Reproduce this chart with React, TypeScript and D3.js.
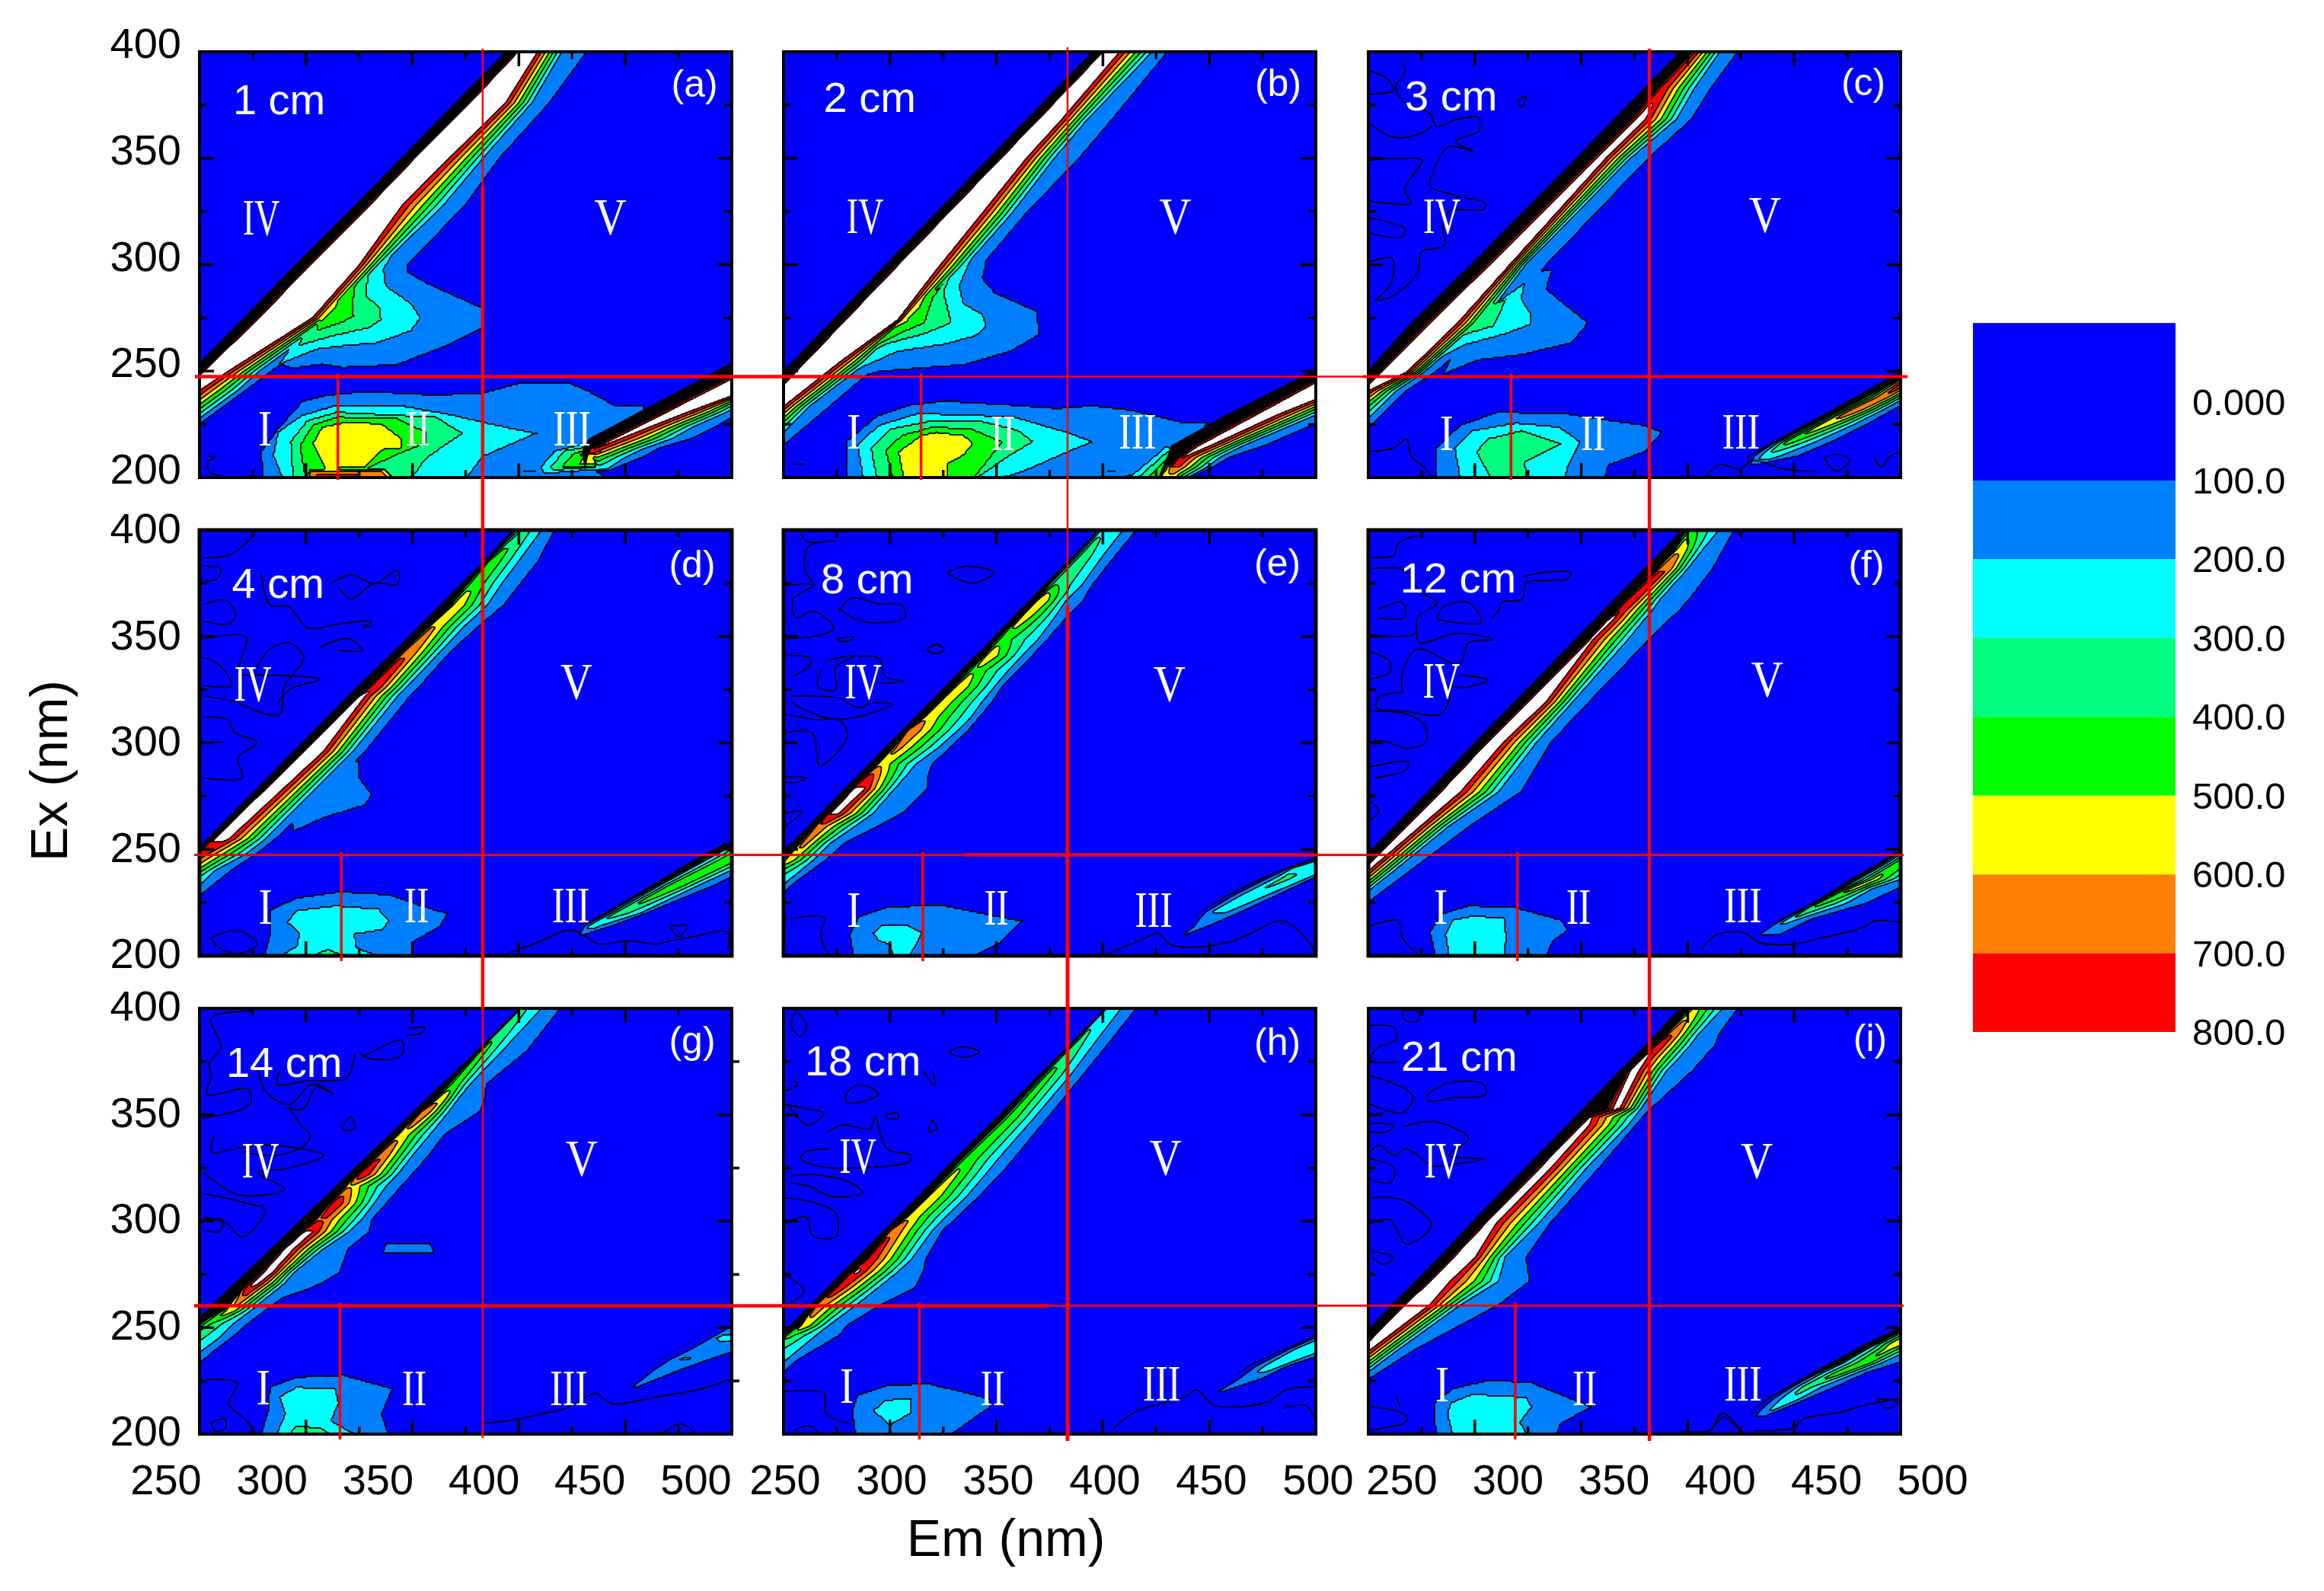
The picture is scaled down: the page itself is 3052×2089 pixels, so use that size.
import React from "react";
import * as d3 from "d3";

type Row = number[]; // [ex, upperFoot, peakStart, peakEnd, em200, em100, peakValue]
type Pt = [number, number];
type Lobe = [number, Pt[]];

// Colour bands
const levels = [100, 200, 300, 400, 500, 600, 700, 800];
const levelColors = ["#0080FF", "#00FFFF", "#00FF80", "#00FF00", "#FFFF00", "#FF8000", "#FF0000", "#FFFFFF"];
const barLabels = ["0.000", "100.0", "200.0", "300.0", "400.0", "500.0", "600.0", "700.0", "800.0"];
const barValues = [0, 100, 200, 300, 400, 500, 600, 700, 800];

// Axis labels
const emLabels = [250, 300, 350, 400, 450, 500];
const exLabels = [200, 250, 300, 350, 400];
const depthLabels = ["1 cm", "2 cm", "3 cm", "4 cm", "8 cm", "12 cm", "14 cm", "18 cm", "21 cm"];
const letterLabels = ["(a)", "(b)", "(c)", "(d)", "(e)", "(f)", "(g)", "(h)", "(i)"];
const romanLabels = ["I", "II", "III", "IV", "V"];
const depthEm = [265.7, 268.8, 267.2, 265.2, 267.5, 264.9, 262.5, 260, 265.4];
const depthEx = [370.7, 371.7, 372.4, 368.3, 370.3, 370.8, 367.8, 368.5, 370.7];
const letterEm = [482.5, 482.3, 482.5, 481.4, 482, 483.9, 481.4, 482, 485.7];
const letterEx = [378.9, 379.2, 379.6, 377.8, 378.5, 377.8, 378.9, 378.2, 379.8];
const romanEm = [
  [280.8, 352.5, 425, 279, 443], [283, 353, 416.3, 288.3, 434], [286.8, 355.5, 425, 284.5, 436.3],
  [281, 352, 424.4, 275, 427], [283, 350, 423.8, 287.4, 431.3], [284, 348.7, 426, 284.3, 437.4],
  [280, 350.9, 423.5, 278.6, 429.5], [279.7, 348.2, 427.6, 284.9, 429.4], [284.7, 351.6, 426, 285, 432.4],
];
const romanEx = [
  [215, 215, 215, 314, 314.5], [213.6, 212.8, 213.6, 314.8, 314.8], [213, 213, 213.6, 314.8, 315.5],
  [215, 215.7, 215.7, 320, 321], [213.6, 214.7, 213.6, 321, 320], [215, 215, 215.7, 321.3, 322],
  [214, 213.6, 213.6, 320.6, 321.8], [214.5, 213.6, 215.7, 322.7, 322], [215.4, 213.6, 215.7, 320.6, 320.6],
];

const redEm = [383, 383.4, 382];
const redEx = [247.4, 247.4, 260.3];
const sepEm = [[315, 314.6, 317], [316.6, 315.4, 320], [316, 313.8, 319]];

// ---- Panel (a)
const ridgeA: Row[] = [[222,218,224,224,242,246,810],[241,237,243,250,268,272,810],[250,246,252,263.5,278,284,810],[275,270.6,278,303,312,318,810],[300,295,302,325,335.5,348,810],[328,323,330,345,364.5,375,810],[350,344.5,351,367,383,391,810],[376,370,377,393.6,406,414.5,810],[400,393.5,399.5,408.7,420,432,810]];
const ridge2A: Row[] = [[203,431,438,439,440,442,150],[209.6,430,436,437,450,458.6,500],[213.6,430,435,436,458.6,466,810],[218.4,433,444.8,448,472,482,810],[224,443.6,456,462,482,493,810],[231,456.7,470,480,498,505,810],[238.3,470.5,484,500,510,518,810],[254,500,515,540,540.5,550,810]];
const lobesA: Lobe[] = [
  [100,[[348.3,304.5],[348.3,296.6],[356.4,291.8],[383,279.8],[383,270.2],[365.7,261.5],[342.5,252.7],[317,251.4],[307.6,253],[293.7,251],[282,255],[319,304.5]]],
  [200,[[341.3,306],[336.7,298],[337.8,290],[349.4,282],[354,275],[349.4,268.6],[333,263],[317,261.5],[305,260],[286.7,252.7],[319,296]]],
  [300,[[329.7,298],[328.5,285.4],[335,279.8],[335.5,274.2],[329.7,270.2],[312.3,266.2],[296,261.5],[305,280.6]]],
  [400,[[324,295],[322,280.6],[322.7,275.8],[317,272.6],[305,268.6],[305,280.6]]],
  [500,[[317,291.8],[314.6,280.6],[307.6,273.4],[300.6,275.8]]],
  [100,[[279.7,199],[278.6,212],[286.7,223],[298.3,236],[310,239],[328.5,240.7],[361,239],[383,240],[400.6,244.7],[423.8,244.7],[433,240.7],[444.7,234.3],[458.6,234.3],[458.6,216.8],[435.4,204],[442.4,199]]],
  [200,[[289,199],[284.4,210.4],[286.7,221.5],[298.3,229.5],[314.6,234.3],[342.5,234.3],[365.7,230.3],[383,226.3],[408.7,220.8],[383,209.6],[375,199]]],
  [300,[[293.7,199],[292.5,216.8],[300.6,227],[314.6,231],[342.5,229.5],[361,228.7],[373.8,220.8],[356.4,208.8],[349.4,199]]],
  [400,[[299.5,199],[297,215],[303,224.7],[314.6,228.7],[342.5,228],[356.4,221.5],[356.4,216],[342.5,210.4],[328.5,204],[342.5,199]]],
  [500,[[308.8,204],[303,216],[307.6,224],[319,226.3],[335.5,225.5],[344.8,218.4],[344.8,213.6],[335.5,212.8],[327.4,204.8]]],
  [500,[[299,199],[302,204],[337,204],[342,199]]],
  [600,[[301,199],[302,203],[335.5,203],[340,199]]],
  [700,[[304,199],[305,201.8],[324,201.8],[325,199]]],
  [200,[[409.9,204.8],[416.8,212.8],[433,216.8],[442.4,204],[412.2,201.6]]],
  [300,[[414.5,204.8],[421.5,212.8],[433,215],[435.4,204.8],[416.8,203.2]]],
  [400,[[420,205],[425,211],[433,214],[436,205]]],
  [500,[[428,206],[431,211],[435,212],[436,206]]],
  [700,[[428.4,210.4],[434.2,214.4],[439,212],[430.8,210.4]]],
];
const noiseA: Pt[][] = [[[254,210],[257.7,209.6],[254,207.2],[255,202.4],[261,200.8]],[[402,203],[408,203]]];

// ---- Panel (b)
const ridgeB: Row[] = [[215,216,222,226,244,250,810],[233.5,233.8,240,250,262,272,810],[254,253.6,260,276,289,296,810],[274,272.9,279,303.6,309,316,810],[298,296,302,322,334,342,810],[324,321,327,343,357,364,810],[350,346.3,352,363.9,377,389,810],[367.6,363.3,369,380,392,404,810],[400,394.9,400,407.7,423,430.5,810]];
const ridge2B: Row[] = [[200,426,430,432,440,441,550],[205,428,432,436,449,452,700],[209.6,430,437,438,455,460,810],[215,432,445,450.5,465.7,476.5,810],[229.5,458,472,482,500,510,810],[244.7,488,500,520,530,540,810],[251,500,512,535,540,550,810]];
const lobesB: Lobe[] = [
  [100,[[345.6,301.4],[343.8,293.4],[349.3,287],[369.3,278.2],[370.3,267],[356.6,259],[334.7,252.7],[312.8,251],[294.5,249.5],[281.8,245.5],[276,255],[322,296.6]]],
  [200,[[338.3,303],[332.8,290],[334.7,282],[343.8,276.6],[345.6,271],[340,266.2],[325.5,262.3],[303.6,259],[294.5,255],[280,248.7],[318,288.6]]],
  [300,[[329,296.6],[325.5,287],[327.4,279],[329,272.6],[315.5,267],[300,263],[285.4,256.7],[312.8,280.6]]],
  [400,[[325.5,291.8],[320,283.8],[316.4,272.6],[305.5,267.8],[290.9,260.7],[309,277.4]]],
  [500,[[320,291.8],[314.6,280.6],[307.3,272.6],[296.4,267],[305.5,280.6]]],
  [100,[[279,199],[279,216.8],[294.5,229.5],[309,234.3],[325.5,236.2],[353,234.6],[378.5,232.7],[394.9,234],[413,232],[436.9,226.3],[449.6,226.3],[440.5,210.4],[407.7,199]]],
  [200,[[287.2,199],[284.5,215.2],[294.5,224.7],[312.8,230.3],[334.7,229.8],[358.4,228.7],[384,221.2],[395.8,216.8],[384,212],[363.9,203.2],[351,199]]],
  [300,[[293.6,199],[290.9,213.6],[300,223],[320,227],[342,227],[360.2,222.3],[367.5,216.8],[356.6,210.4],[340,199]]],
  [400,[[301,199],[297.8,212.8],[305.5,220],[320,224],[338.3,223],[353,216.8],[349.3,212],[339,199]]],
  [500,[[306.4,199],[303.6,212],[314.6,220],[321.9,221.5],[334.7,220],[339.2,216],[334.7,210.4],[327.4,206.4],[327.4,199]]],
  [200,[[411,199],[430,215],[440,206],[440,199]]],
  [300,[[415,199],[431,213],[438,205],[438,199]]],
  [400,[[420,199],[431,210],[436,204],[436,199]]],
  [500,[[426,199],[431,206],[435,203],[435,199]]],
];
const noiseB: Pt[][] = [[[254,206.4],[260,206.4]],[[402,203],[406,203]]];

// ---- Panel (c)
const ridgeC: Row[] = [[222,217,222,222,244,249,810],[240.7,240,247,250,263,268,810],[249.5,249,256,268,276,281.6,810],[272.6,270,279,291.8,303,309,810],[300,298,307,316.4,323.7,333.8,810],[350,347.5,357,361.4,373,381.7,810],[368.4,365.3,375.9,380,394.7,402,810],[382.8,379.5,388,388.5,403,411,790],[400,396,404,404.5,415,423.7,740]];
const ridge2C: Row[] = [[206,428,429,430,431,432,120],[210,428,436,437,443,452,250],[216.8,440,447,448,460,468,450],[224.7,454.5,463,465,477.5,484,560],[232,468,478,481,492,497,660],[237.5,478,490,492,502,509,680],[250,500,510,512,524,530,800]];
const lobesC: Lobe[] = [
  [100,[[336.7,298],[333.8,288.6],[342.5,281.4],[353.5,272.6],[345.4,263],[322.2,257.5],[301.9,255],[284.5,248],[301.9,280.6],[328,296.6]]],
  [200,[[323.7,291.8],[322.2,283.8],[326.6,276.6],[326.6,271.8],[313.5,267],[296,262.3],[281.6,255],[299,274.2]]],
  [300,[[315,283.8],[309,271],[293,266.2],[293,277.4]]],
  [100,[[281.6,199],[281.6,213.6],[293,224.7],[310.6,231],[342.5,230.3],[380,224.7],[388.3,221.5],[380,212],[362.8,205.6],[361.4,199]]],
  [200,[[293,199],[290.3,213.6],[299,222.3],[319.3,225.9],[339.6,224],[349.8,216.8],[344,205.6],[342.5,199]]],
  [300,[[307.7,199],[300.5,212],[306,218.4],[322.2,222.3],[341,216],[323.7,207],[325,199]]],
];
const noiseC: Pt[][] = [
  [[266,396],[267,390],[263,384],[266,377],[279,371],[282,365],[291,368],[302,369],[302,363],[291,358],[300,353],[293,355],[287,355],[280,342],[279,337],[293,332],[305,329],[304,326],[288,325],[285,317],[286,309],[275,306],[273,296],[261,285],[253,283]],
  [[250,367],[261,360],[273,361],[280,365]],
  [[250,349],[267,350],[275,349],[267,335],[270,329],[250,330]],
  [[250,322],[267,317],[266,313],[250,315]],
  [[250,301],[261,303],[261,292],[253,283]],
  [[250,391],[258,388],[262,382],[250,380]],
  [[250,212],[262,214],[268,218],[270,210],[276,205],[280,200]],
  [[408,200],[415,206],[425,204],[430,208],[445,204],[460,203]],
  [[464,209],[470,211],[476,208],[470,203],[464,209]],
  [[487,210],[491,205],[495,210],[500,212]],
  [[320,377],[324,379],[322,374],[320,377]],
];

// ---- Panel (d)
const ridgeD: Row[] = [[228,226,227,227,245,250,300],[240,238.6,246,247,257,265,560],[248,246.5,250,252,272,277,760],[255,253.5,257,263.7,281,286,810],[296,294,299,308,322,328,810],[322,319.6,325,327.6,343,349,810],[326,323.6,331,333,347,353,790],[342.8,341,347,350,363,368,680],[354.5,352.7,359,361,374,381,600],[364.7,362.8,370,372,385,393,570],[375,373,378,381,392,401,460],[385,383,386,389,399.5,409,450],[400,397,402,404,410.6,417,330]];
const ridge2D: Row[] = [[210,428,428.5,429,430,431,150],[214,429,433,434,438,444,220],[220,440,446,448,457,460,360],[233,462,472,475,484,492,480],[245,482,497,499,510,516,500],[253,497,510,512,522,530,470]];
const lobesD: Lobe[] = [
  [100,[[324.8,291.7],[324.8,284.4],[331.2,275.6],[327.6,270.5],[308.4,264.7],[293.8,258],[292,274],[310,288.8]]],
  [100,[[280,199],[282.8,210],[282.8,221.6],[295.6,227.4],[315.7,230.4],[339.4,229],[354,223.8],[366.8,220],[363,213.6],[350.4,206.3],[350.4,199]]],
  [200,[[286.5,199],[295.6,204.8],[296.5,210.7],[291,215.8],[295.6,221.6],[313.9,223.8],[334,222.3],[339.4,216.5],[335.8,212],[323,210],[323.9,204],[336.7,199]]],
  [300,[[301,199],[310.2,203.4],[321,199]]],
];
const noiseD: Pt[][] = [
  [[276,398],[264.6,388.5],[252,387]],
  [[252,383],[260,382],[258,377],[252,376]],
  [[312,375],[321,379],[332,375],[343,381],[343,374.6],[332,375],[321,367.6],[315.5,373]],
  [[279,380],[283,365],[292,364],[301,354],[316,356],[331,357],[326.7,354],[331,355]],
  [[252,349],[272,350],[270,341],[268,334]],
  [[306.6,345],[320,349],[326.7,343.5],[315.7,343.5]],
  [[277,335.5],[283,344],[292,347],[299,340],[290,327],[288,313.6],[281,313.6],[266,319.4],[252,322]],
  [[252,340],[259,337],[265,327],[252,327]],
  [[268,332],[306.6,330],[292,325],[286.5,318]],
  [[252,312],[263,311],[266.4,305],[277,300.4],[268,293],[270,283.6],[252,283.6]],
  [[252,300.4],[261,300.4]],
  [[252,365],[262,367],[267,361],[264,356],[252,357]],
  [[255.5,208.5],[268,212],[277,205.5],[268,201],[259,204],[255.5,208.5]],
  [[394,201],[407,205.5],[425,212],[438,205.5],[450.7,207],[465,205.5],[471,207],[480,208.5],[498,211],[498,202.6]],
  [[471,214],[479,214],[475,209],[471,214]],
];

// ---- Panel (e)
const ridgeE: Row[] = [[228,229,229.5,230,244,248.5,120],[234,235,238,239,250.7,255,300],[245,245.8,251.6,253.6,264,270,550],[253,253.6,259,261,272,279,620],[261,261.5,266,268,283.6,295,680],[267,267.3,272,276,292,306,810],[278.5,278.6,283,288,302,318,810],[284,284,289,291,307,318,740],[290,289.9,295,297,312,320,570],[298,297.7,303,305,323,328.6,620],[306,305.5,309,311,332,337,680],[312,311.4,317,319,338,342,570],[319,318.3,324,326,343,348,560],[326.7,325.9,332,334,349.3,353,570],[334,333,339,341,355.5,360,480],[341,339.9,346,348,362,367,570],[348.6,347.6,352,354,369.5,374,450],[360,358.5,363,365,378,384,560],[367,365.3,370,372,382.6,391,590],[374,372,377,379,390,395,400],[388,386,390,392,400,406,350],[400,397.4,400,402,409.5,415.9,280]];
const ridge2E: Row[] = [[210,437,438,438.5,439,439.5,120],[214,437,445,446,447,450,130],[221,446,452,454,460,466,210],[228,457,467,469,476,481,280],[236,473,484,486,495,498,320],[241,485,490,498,507,510,280],[247,502,510,515,525,530,260]];
const lobesE: Lobe[] = [
  [100,[[282.7,199],[280.8,210],[285.4,218.7],[300,223.5],[325.5,223.8],[347.4,219.4],[362.4,216.5],[351,205.5],[338.3,199]]],
  [200,[[294.5,207],[291.8,210.7],[296.4,215],[307.3,215],[315.5,210.7],[309,199],[301,199],[300,205]]],
];
const noiseE: Pt[][] = [
  [[258,399],[261,394.6],[274,395],[262,392.6],[260,382],[264,375]],
  [[327,380],[336,383],[349,380],[338.7,375],[327,379.5]],
  [[276,362],[282,368],[294.5,365.4],[305.5,364.7],[307,359],[287,357],[276,363]],
  [[251,374],[264,374],[254.6,367.6],[256,358.8],[264,362],[273.6,353.7],[263.6,350],[251,349]],
  [[275,349],[283,350],[281,348],[276,348],[275,349]],
  [[317,343.5],[322,346.4],[325.5,343.5],[321,342],[317,343.5]],
  [[251,341],[262,340],[262.6,337],[254,331]],
  [[269,338],[276,340],[283.6,341],[274.5,335.5],[274.5,325],[266,326.7],[268,335]],
  [[285,340.6],[294.5,339.9],[298,331],[306.4,329],[294.5,328]],
  [[254,322],[265,322],[276,321],[285.4,316.5],[291,318.7],[301,318],[283.6,312],[272.6,311.4],[258,316.5],[254,319.4]],
  [[251,313.6],[265,311],[276,310.7],[280,303.4],[267,289.5],[263.5,304.8],[251,304.8]],
  [[251,284],[261,283.6],[256,281.5],[251,281.5]],
  [[251,267],[259,268],[251,261]],
  [[251,217],[269,218],[267.4,210],[271,201]],
  [[402,201],[418.6,207.7],[426,210.7],[431.4,205.5],[440.5,204],[458.8,206.3],[469.7,210.7],[484.3,216.5],[495,208.5],[500,201]],
];

// ---- Panel (f)
const ridgeF: Row[] = [[225,227,232,232,243,250,810],[240,241.6,247,250,262,270,810],[261,262,268,274.5,287.8,298,810],[277,277.7,284,293,311,322,810],[300.4,300,306,313.3,329,336,810],[319.4,318.6,325,333.4,346,354,810],[348.6,347,354,355.3,371.8,382,810],[357.4,355.6,362,364.4,379,391,810],[362,360,368,368.5,383,396,800],[367.6,365.6,373,375,387,401,790],[382,379.6,388,391,400,412,690],[391,388.4,396,398,407,417,570],[400,397,401,403,414.6,422,430]];
const ridge2F: Row[] = [[210,433,434,435,436,444,130],[214,437,441,442,443,452,160],[217,443,448,449,451,458,280],[224.5,458,461,463,474,484,430],[231.8,470,477,479,487,499.5,530],[236,476,487,489,500,508,520],[242,487,496,498,510,520,470],[250,500,508,510,525,535,420]];
const lobesF: Lobe[] = [
  [100,[[281.4,199],[278.6,211.4],[285,220],[296.9,223.8],[318.8,223],[340.7,217],[344,212],[337,207],[333.4,199]]],
  [200,[[287.8,199],[286,210],[289.6,217],[298.7,219],[314,218],[315,208.5],[314,199]]],
];
const noiseF: Pt[][] = [
  [[273,397.5],[264,393.8],[262,388],[251,387.3]],
  [[251,381.5],[266,381.5],[275,370.5],[282.3,366],[273,358.8],[272,351.5],[251,350.8]],
  [[322.4,378],[331.6,380],[345,380],[343.4,377],[324,375],[322.4,367.6],[312.4,366],[311.5,362.5],[308,358.8]],
  [[282.3,358.4],[285,363.8],[297,366],[303,356.6],[282.3,358]],
  [[255,363],[266,366],[267,358.8],[255,358.8]],
  [[273,351.5],[274,347],[291.4,351.5],[308.8,348.6],[297,347],[293,337],[273,344],[266,332.6],[266,323.8]],
  [[251,342.8],[260,338.4],[260,333],[251,330]],
  [[293,332],[306,329.6],[295,326],[287.8,326.7]],
  [[266,323.8],[255,321.6],[254,316.5],[266,315],[284,313.6],[287.8,319.4],[288,325.3]],
  [[251,315],[267.7,313.6],[276.8,307.7],[276.8,300.4],[267.7,297.5],[256.8,301],[251,300.4]],
  [[251,288.8],[268.7,291],[267.7,287.3],[253,283.6]],
  [[251,272.7],[255,268],[251,264]],
  [[251,214],[264,216.5],[266,208.5],[273,201]],
  [[406.4,203],[413.7,210],[426.5,210.7],[433.8,206.3],[450,205.5],[463,208.5],[481,212.8],[488.5,216.5],[499.5,215.8]],
];

// ---- Panel (g)
const ridgeG: Row[] = [[233,227,228,229,245,250,110],[238.3,232.6,238,239,250,256,300],[245,239.6,245,246,259,265,380],[252,246.9,252.6,254.6,266,273,420],[258,253,263.6,265.6,274,281,550],[263.8,259,269,271,281,289,660],[267.8,263.3,272,273.6,286,301,790],[271,266.6,275,278,290,308,810],[275.8,271.6,280,284,294,316,810],[287,283.3,290,294,308,320,810],[295,291.6,299,303,320,330,810],[300.6,297.4,306,309,326,331,690],[308.5,305.6,313,315,332,338,780],[316.5,314,320,322,337.6,345,580],[322,319.6,325.6,327.6,343,350,780],[331,329,335,337,350,358,680],[340.5,339,344,346,358,365,570],[351.6,350.5,355,357,367,382,680],[357,356,362,364,371,384,570],[364.4,363.8,369,371,377,385,450],[380,380,382,384,392,404,420],[400,400,401,402,410.6,419.7,330]];
const ridge2G: Row[] = [[222,452,453,454,455,456,110],[230,458,465,467,468,476,130],[235,466,475,477,478,490,180],[240,474,487,489,490,505,180],[251,494,505,507,508,525,170]];
const lobesG: Lobe[] = [
  [100,[[337.6,290],[358.6,290],[360.4,285],[335.8,285]]],
  [100,[[278.3,199],[282,211],[282.8,222.3],[295.6,227],[317.5,228],[341,221.5],[335.8,209.6],[339.4,199]]],
  [200,[[285.6,199],[290,209.6],[287.4,217.6],[295.6,222.3],[313.9,221.5],[315.7,214.4],[312,206.4],[325,199]]],
  [300,[[291,199],[295.6,204],[306.6,203.2],[313.9,199]]],
  [200,[[475,235],[478.5,236.5],[482,235.6],[478.5,234.5]]],
  [200,[[492,245],[496,247],[501,247],[501,243],[495,243]]],
];
const noiseG: Pt[][] = [
  [[275.5,398.7],[255.5,395.5],[260,382],[254.6,374],[255.5,368.4],[253.6,359.6],[272.8,362],[273.7,354.8],[251,348.4]],
  [[347.6,390.7],[355.8,390.7],[354,388.3],[347.6,387.6]],
  [[326.6,377],[344.9,385],[344.9,378],[330,376.4],[324.8,380]],
  [[277.4,372.4],[281,361],[292,354.8],[303,364.4],[313,359.6],[304.7,362.8],[299,353],[292,353]],
  [[323,378.8],[319.3,367.6],[301,366],[286.5,364.4],[288,371]],
  [[292,354],[297.4,345.3],[302,340.5],[299.3,335.7],[286.5,330.9],[270,332.5]],
  [[317.5,345],[321,349],[323,343.7],[317.5,342.9],[317.5,345]],
  [[257,340.5],[255.5,332.5],[266.4,334],[283,335.7],[308.4,331],[290,324.5],[277.4,323],[290,315],[268,312.5],[252,323]],
  [[252,313],[272,308.5],[281,305.3],[270,292.6],[262.8,299],[252,302]],
  [[252,300.6],[261,300.6],[259,295],[252.7,295.8]],
  [[252,225.5],[268,224],[263.7,214.4],[272,206.4],[275.5,200]],
  [[255.5,205.6],[262,207],[262,202.4],[257.3,201.6],[255.5,205.6]],
  [[383,204.8],[399.6,207],[410.6,209.6],[421.5,212],[436,219],[443.5,214.4],[465.3,217.6],[483.6,220.7],[500,226]],
  [[467,200],[476,204.8],[483.6,200]],
];

// ---- Panel (h)
const ridgeH: Row[] = [[229.5,231,232,233,246,250.7,120],[234.3,236,240,241,250.7,256,260],[246.3,248,251.6,253.6,265,276.3,420],[251,253,259,261,271,280,560],[260.7,262.5,266,268,284,296,660],[268.6,270.3,275,277,294,312,750],[276.6,278,283.5,285.5,304,316,810],[282.2,283.8,290,292,310,317,760],[295.8,297,301,303,320,325,680],[302,303.3,309,311,326,332,570],[311.7,313,319,321,336,342,570],[323,324,330,332,345.6,353,510],[329,330,335.5,337.5,350.5,358,470],[348.4,349.5,355.6,357.6,367.5,374,450],[369,370,373.8,375.8,385,391,420],[385,386,388.4,390.4,397,404,320],[400,401,402,403,408.6,415.9,260]];
const ridge2H: Row[] = [[220,453,454,455,456,457,110],[226,460,466,468,469,475,150],[232,468,478,480,484,487,250],[240,485,493,495,505,512,290],[248,503,512,514,520,528,280]];
const lobesH: Lobe[] = [
  [100,[[283.6,199],[282,211],[284.5,218.4],[298,223],[318,224],[347.4,216.8],[347.4,212.8],[328,199]]],
  [200,[[291.8,211],[298,216.3],[310,216.8],[310,209.6],[302.7,205.6],[300,204]]],
];
const noiseH: Pt[][] = [
  [[256,399],[253.5,392.3],[258,386.8],[260.8,391.5],[256,399]],
  [[328,379.6],[333.6,382],[342,379.6],[335.5,377],[328,378.8]],
  [[279,359.6],[283.6,363.6],[289,363.6],[294.5,359.6],[280,355.6],[279,359.6]],
  [[252.5,366],[257,364.4],[250.7,361.2]],
  [[320,370.8],[321,363.6],[315.5,370.8]],
  [[250.7,354.8],[263.5,352.4],[269,350.8],[261.7,345.2],[256,349.2],[252.5,354.8]],
  [[298,350],[303.7,350.8],[303.7,348.4],[299,348.4],[298,350]],
  [[320,347.6],[322,343.6],[318,342],[320,347.6]],
  [[270.8,342],[278,345.2],[291,343.6],[293,349.2],[298.5,334],[310,331],[309,328],[289,325.3],[270.8,325.3],[258,329.3],[260,332.5],[270.8,334]],
  [[253.5,321.3],[263.5,322],[281.7,318],[287,313.3],[272.6,311.7],[261.7,316.5],[253.5,318]],
  [[250.7,311],[265,308.5],[274.5,303.7],[274.5,292.6],[263.5,293.4],[260.8,302],[250.7,299]],
  [[250.7,275],[259.8,267],[250.7,260.6]],
  [[250.7,220],[269,219],[270,209.6],[281.8,204.8]],
  [[255,201.6],[261.7,204],[267,200]],
  [[404,201.6],[415,210.4],[427.7,214.4],[438.7,217.6],[444,220.8],[452.3,213.6],[477,215],[486,220.8],[500,222.3]],
  [[484.3,212],[495,213.6],[499,208]],
];

// ---- Panel (i)
const ridgeI: Row[] = [[225.5,225,232,232,245,250,810],[239,239.8,246,250,263,271,810],[260.7,261,267,278.6,293,311.5,810],[271.8,272,279,288,311,326,810],[283,283,290,300,314,324.3,810],[299,298,305,309.7,330,335.5,810],[324.5,323,330,335,352,358,810],[345.2,343.3,350,353.5,372,375.8,810],[349,347,354,355,375,379,810],[353,351,365,368,378,383,810],[370.8,368,373,377,390,402.6,810],[377,374.4,379,381,396,408,810],[382.7,380,386,387,401,413,790],[388,385,392,394,405,415,690],[400,396,403,405,416.4,423.7,520]];
const ridge2I: Row[] = [[208,430,431,432,433,435.6,110],[211,430,438,439,440,443,200],[216.8,437,447,449,453,457,280],[222.3,447,455,457,463,470,340],[228.7,458,470,472,479,484,450],[233.5,467,482,484,491,499.5,480],[240,479,493,495,505,512,520],[242.3,483.5,497,499,509,517,600],[250,499,510,512,522,530,560]];
const lobesI: Lobe[] = [
  [100,[[281.4,199],[280.5,214.4],[289.6,221.5],[306,225.5],[326,224.7],[355.3,212.8],[340.7,204.8],[338,199]]],
  [200,[[289.6,199],[286.9,209.6],[288.7,215],[298.7,219],[324.3,217.6],[327,212.8],[321.5,205.6],[325.2,199]]],
];
const noiseI: Pt[][] = [
  [[266,399],[274,398],[273,394],[267,394.7],[266,399]],
  [[251,392],[262,391],[263,385.4],[255,382],[251,375.6],[265,375]],
  [[251,368.4],[267.7,362],[271,358],[265.9,351],[251,355]],
  [[277.7,359.6],[287.8,365],[304,364.4],[305,359.6],[289.6,358],[278.6,356.4],[277.7,359.6]],
  [[251,346],[262,345],[258.6,342],[251,342]],
  [[266.8,344.5],[280.5,346.8],[297,338.9],[288,330.9],[304,329.3],[291.4,326.9],[280.5,326],[267.7,334],[262,330.9],[255,335.7],[251,332.5]],
  [[251,329.3],[262,325.3],[260.4,318],[251,319.7]],
  [[251,311],[266,310],[279.6,298],[267.7,289.4],[260.4,300.6],[251,299]],
  [[251,286],[262,283],[256.8,279.8],[252,283]],
  [[251,212.8],[263,211],[268.6,208],[266,204.8],[258.6,203.2],[251,201.6]],
  [[263,217.6],[265,212.8]],
  [[397,201.6],[410,201.6],[416.4,210],[424.6,201.6],[417,208],[411,201.6]],
  [[431,201.6],[450,203],[454,207],[472,210.4],[483,213.6],[499.5,216.8]],
  [[488.5,216.8],[498.5,215],[494,212],[488.5,216.8]],
];

const ridges = [ridgeA, ridgeB, ridgeC, ridgeD, ridgeE, ridgeF, ridgeG, ridgeH, ridgeI];
const ridges2 = [ridge2A, ridge2B, ridge2C, ridge2D, ridge2E, ridge2F, ridge2G, ridge2H, ridge2I];
const lobes = [lobesA, lobesB, lobesC, lobesD, lobesE, lobesF, lobesG, lobesH, lobesI];
const noises = [noiseA, noiseB, noiseC, noiseD, noiseE, noiseF, noiseG, noiseH, noiseI];

// Layout
const W = 3052, H = 2089;
const colLeft = [262, 1029, 1797];
const rowTop = [68, 696, 1324];
const PW = 699, PH = 559, CELL = 2;
const emDomain = [250, 500], exDomain = [200, 400];
const labelXRange = [[218, 914], [1031, 1731], [1841, 2538]];
const labelYRange = [[615, 56], [1251, 693], [1878, 1320]];
const FONT = "'Liberation Sans', Arial, sans-serif";
const SERIF = "'Liberation Serif', 'Times New Roman', serif";
const romanScale = [0.8, 0.71, 0.73, 0.68, 0.86];

function addRidge(values: Float32Array, n: number, m: number, table: Row[], x: any, y: any) {
  const exs = table.map((r) => r[0]);
  const cols = [1, 2, 3, 4, 5, 6].map((c) =>
    d3.scaleLinear().domain(exs).range(table.map((r) => r[c])).clamp(true)
  );
  for (let j = 0; j < m; j++) {
    const ex = y.invert((j + 0.5) * CELL);
    if (ex < exs[0]) continue;
    const [u, p1, p2, e200, e100, peak] = cols.map((s) => s(ex));
    const stops = [u, p1, p2, e200, e100, e100 + 0.7];
    for (let k = 1; k < stops.length; k++) if (stops[k] <= stops[k - 1]) stops[k] = stops[k - 1] + 0.01;
    const profile = d3.scaleLinear().domain(stops)
      .range([0, peak, peak, Math.min(200, peak), Math.min(100, peak), 0]).clamp(true);
    for (let i = 0; i < n; i++) {
      const em = x.invert((i + 0.5) * CELL);
      if (em < u || em > stops[5]) continue;
      const v = profile(em);
      if (v > values[j * n + i]) values[j * n + i] = v;
    }
  }
}

function addLobes(values: Float32Array, n: number, m: number, list: Lobe[], x: any, y: any) {
  for (const [level, poly] of list) {
    const px = poly.map((p) => [x(p[0]), y(p[1])] as [number, number]);
    const [x0, x1] = d3.extent(px, (p) => p[0]) as [number, number];
    const [y0, y1] = d3.extent(px, (p) => p[1]) as [number, number];
    const i0 = Math.max(0, Math.floor(x0 / CELL) - 1), i1 = Math.min(n - 1, Math.ceil(x1 / CELL));
    const j0 = Math.max(0, Math.floor(y0 / CELL) - 1), j1 = Math.min(m - 1, Math.ceil(y1 / CELL));
    for (let j = j0; j <= j1; j++)
      for (let i = i0; i <= i1; i++) {
        if (values[j * n + i] >= level + 5) continue;
        if (d3.polygonContains(px, [(i + 0.5) * CELL, (j + 0.5) * CELL])) values[j * n + i] = level + 5;
      }
  }
}

// The tightly packed upper flank reads as solid black in the reference.
function flankShare(peak: number, secondOrder: boolean) {
  const k = Math.max(0, Math.min(1, (peak - 150) / 400)) * 0.82;
  return secondOrder && peak < 800 ? k * 0.55 : k;
}

function Panel({ index }: { index: number }) {
  const col = index % 3, row = Math.floor(index / 3);
  const left = colLeft[col], top = rowTop[row];
  const x = d3.scaleLinear().domain(emDomain).range([0, PW]);
  const y = d3.scaleLinear().domain(exDomain).range([PH, 0]);
  const n = Math.ceil(PW / CELL), m = Math.ceil(PH / CELL);
  const values = new Float32Array(n * m);
  addRidge(values, n, m, ridges[index], x, y);
  addRidge(values, n, m, ridges2[index], x, y);
  addLobes(values, n, m, lobes[index], x, y);
  const contours = d3.contours().size([n, m]).smooth(true).thresholds(levels)(Array.from(values));
  const path = d3.geoPath(d3.geoIdentity().scale(CELL) as any);
  const line = d3.line<Pt>().x((d) => x(d[0])).y((d) => y(d[1])).curve(d3.curveCatmullRom.alpha(0.5));
  const flank = (second: boolean) =>
    d3.area<Row>()
      .y((r) => y(r[0]))
      .x0((r) => x(r[1]))
      .x1((r) => x(r[1] + (r[2] - r[1]) * flankShare(r[6], second)));
  const emTicks = d3.range(250, 501, 25);
  const exTicks = d3.range(200, 401, 25);
  const frame = row === 1 ? 5 : 4;
  const clip = `clip-${index}`;
  return (
    <g transform={`translate(${left},${top})`}>
      <clipPath id={clip}><rect width={PW} height={PH} /></clipPath>
      <g clipPath={`url(#${clip})`}>
        <rect width={PW} height={PH} fill="#0000FF" />
        {contours.map((c, i) => (
          <path key={i} d={path(c as any) || ""} fill={levelColors[i]} stroke="#000" strokeWidth={1.7} strokeLinejoin="round" />
        ))}
        <path d={flank(false)(ridges[index]) || ""} fill="#000" />
        <path d={flank(true)(ridges2[index]) || ""} fill="#000" />
        {noises[index].map((p, i) => (
          <path key={i} d={line(p) || ""} fill="none" stroke="#000" strokeWidth={1.7} />
        ))}
      </g>
      {emTicks.slice(1, -1).map((t) => {
        const len = t % 50 === 0 ? 19 : 10;
        return (
          <g key={t} stroke="#000" strokeWidth={3.5}>
            <line x1={x(t)} x2={x(t)} y1={0} y2={len} />
            <line x1={x(t)} x2={x(t)} y1={PH} y2={PH - len} />
          </g>
        );
      })}
      {exTicks.slice(1, -1).map((t) => {
        const major = t % 50 === 0;
        const len = major ? 19 : 10;
        const rightDir = index === 6 && !major ? 1 : -1;
        return (
          <g key={t} stroke="#000" strokeWidth={3.5}>
            <line y1={y(t)} y2={y(t)} x1={0} x2={len} />
            <line y1={y(t)} y2={y(t)} x1={PW} x2={PW + rightDir * len} />
          </g>
        );
      })}
      <rect width={PW} height={PH} fill="none" stroke="#000" strokeWidth={frame} />
      <text x={x(depthEm[index])} y={y(depthEx[index])} fill="#fff" fontFamily={FONT} fontSize={56}>{depthLabels[index]}</text>
      <text x={x(letterEm[index])} y={y(letterEx[index])} fill="#fff" fontFamily={FONT} fontSize={50} textAnchor="middle">{letterLabels[index]}</text>
      {romanLabels.map((r, i) => (
        <text key={r} transform={`translate(${x(romanEm[index][i])},${y(romanEx[index][i])}) scale(${romanScale[i]},1)`}
          fill="#fff" fontFamily={SERIF} fontSize={68} textAnchor="middle">{r}</text>
      ))}
    </g>
  );
}

function RedLines() {
  const xs = colLeft.map((l) => d3.scaleLinear().domain(emDomain).range([l, l + PW]));
  const ys = rowTop.map((t) => d3.scaleLinear().domain(exDomain).range([t + PH, t]));
  const red = "#FF0000";
  // vertical guides: [column, yStart, yEnd, width]
  const vert: [number, number, number, number][] = [
    [0, 64, 245, 2.5], [0, 245, 1325, 4.5], [0, 1325, 1888, 2.5],
    [1, 62, 795, 2.5], [1, 795, 1892, 5],
    [2, 64, 1892, 4.5],
  ];
  // horizontal guides: [row, xStart, xEnd, width]
  const horiz: [number, number, number, number][] = [
    [0, 256, 1132, 4.5], [0, 1132, 1790, 2.5], [0, 1790, 2505, 4],
    [1, 255, 1265, 3], [1, 1265, 1727, 4.5], [1, 1727, 2500, 2.8],
    [2, 255, 1376, 4.5], [2, 1376, 2500, 2.8],
  ];
  return (
    <g stroke={red}>
      {vert.map(([c, a, b, w], i) => (
        <line key={i} x1={xs[c](redEm[c])} x2={xs[c](redEm[c])} y1={a} y2={b} strokeWidth={w} />
      ))}
      {horiz.map(([r, a, b, w], i) => (
        <line key={i} x1={a} x2={b} y1={ys[r](redEx[r])} y2={ys[r](redEx[r])} strokeWidth={w} />
      ))}
      {sepEm.map((rowEm, r) => rowEm.map((em, c) => {
        const bottom = rowTop[r] + PH + (r === 0 ? 3 : 7);
        return <line key={`${r}${c}`} x1={xs[c](em)} x2={xs[c](em)} y1={ys[r](redEx[r]) - 4} y2={bottom} strokeWidth={3.5} />;
      }))}
    </g>
  );
}

function ColorBar() {
  const yb = d3.scaleLinear().domain([100, 800]).range([631, 1355]);
  const bands = [-100, 100, 200, 300, 400, 500, 600, 700];
  const tops = [100, 200, 300, 400, 500, 600, 700, 800];
  const fills = ["#0000FF", ...levelColors.slice(0, 7)];
  return (
    <g>
      {bands.map((b, i) => (
        <rect key={b} x={2591} width={266} y={yb(b)} height={yb(tops[i]) - yb(b)} fill={fills[i]} />
      ))}
      {barValues.map((v, i) => (
        <text key={v} x={2879} y={yb(v) + 17} fontFamily={FONT} fontSize={49} fill="#000">{barLabels[i]}</text>
      ))}
    </g>
  );
}

function TickLabels() {
  return (
    <g fontFamily={FONT} fontSize={56} fill="#000">
      {labelYRange.map((rng, r) => {
        const s = d3.scaleLinear().domain(exDomain).range(rng);
        return exLabels.map((v) => (
          <text key={`${r}-${v}`} x={238} y={s(v) + 20} textAnchor="end">{v}</text>
        ));
      })}
      {labelXRange.map((rng, c) => {
        const s = d3.scaleLinear().domain(emDomain).range(rng);
        return emLabels.map((v) => (
          <text key={`${c}-${v}`} x={s(v)} y={1962} textAnchor="middle">{v}</text>
        ));
      })}
    </g>
  );
}

export default function App() {
  return (
    <svg width={W} height={H} viewBox={`0 0 ${W} ${H}`} style={{ position: "absolute", left: 0, top: 0, background: "#fff" }}>
      {depthLabels.map((_, i) => <Panel key={i} index={i} />)}
      <RedLines />
      <ColorBar />
      <TickLabels />
      <text x={1321} y={2043} textAnchor="middle" fontFamily={FONT} fontSize={68} fill="#000">Em (nm)</text>
      <text transform="translate(88,1012) rotate(-90)" textAnchor="middle" fontFamily={FONT} fontSize={68} fill="#000">Ex (nm)</text>
    </svg>
  );
}
